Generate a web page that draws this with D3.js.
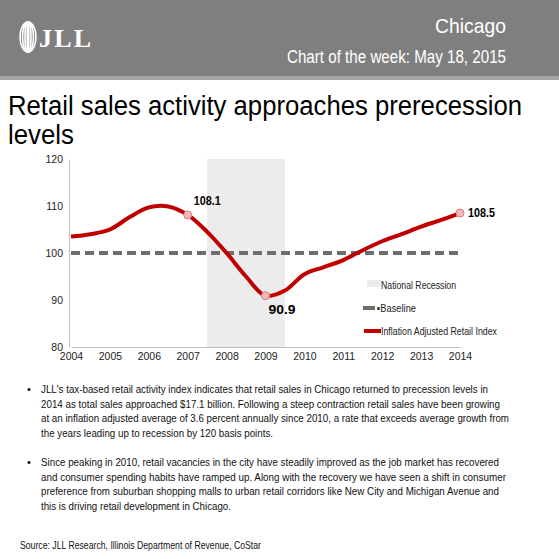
<!DOCTYPE html>
<html><head><meta charset="utf-8">
<script src="https://cdn.jsdelivr.net/npm/d3@7"></script>
<style>body{margin:0;background:#fff}text{font-family:"Liberation Sans Narrow","Arial Narrow","Liberation Sans",Arial,sans-serif}</style>
</head><body><svg id="c" width="559" height="559"></svg>
<script>
const years=[2004,2004.5,2005,2005.5,2006,2006.5,2007,2007.5,2008,2008.5,2009,2009.5,2010,2010.5,2011,2011.5,2012,2012.5,2013,2013.5,2014];
const index=[103.5,104,105,107.6,109.7,109.9,108.1,104.5,100,95,90.9,92,95.5,97,98.5,100.6,102.5,104,105.6,107,108.5];
const baseline=100;
const recession=[2007.5,2009.5];
const labeled=[[2007,108.1],[2009,90.9],[2014,108.5]];
const xTicks=d3.range(2004,2015);
const yTicks=[80,90,100,110,120];
const para1=["JLL's tax-based retail activity index indicates that retail sales in Chicago returned to precession levels in","2014 as total sales approached $17.1 billion.  Following a steep contraction retail sales have been growing","at an inflation adjusted average of 3.6 percent annually since 2010, a rate that exceeds average growth from","the years leading up to recession by 120 basis points."];
const para2=["Since peaking in 2010, retail vacancies in the city have steadily improved as the job market has recovered","and consumer spending habits have ramped up. Along with the recovery we have seen a  shift in consumer","preference from suburban shopping malls to urban retail corridors like New City and Michigan Avenue and","this is driving retail development in Chicago."];
const w1=[447,459,468,232], w2=[458,465,458,190];

const svg=d3.select("#c");
svg.append("rect").attr("width",559).attr("height",76).attr("fill","#7f7f7f");
svg.append("rect").attr("y",76).attr("width",559).attr("height",4).attr("fill","#a6a6a6");
const lg=svg.append("g").attr("fill","none").attr("stroke","#fff").attr("stroke-width",1.6);
[[8,15],[5.5,15],[3,15]].forEach(([rx,ry])=>{lg.append("ellipse").attr("cx",28).attr("cy",37).attr("rx",rx).attr("ry",ry);});
lg.append("ellipse").attr("cx",28).attr("cy",37).attr("rx",0.8).attr("ry",14);
svg.append("text").attr("x",39).attr("y",47).attr("fill","#fff").attr("font-size",26).attr("font-weight","bold").style("font-family","'Liberation Serif',serif").attr("textLength",52).text("JLL");
svg.append("text").attr("x",435).attr("y",33).attr("fill","#fff").attr("font-size",21).attr("textLength",71).attr("lengthAdjust","spacingAndGlyphs").text("Chicago");
svg.append("text").attr("x",287).attr("y",63).attr("fill","#fff").attr("font-size",18).attr("textLength",219).attr("lengthAdjust","spacingAndGlyphs").text("Chart of the week: May 18, 2015");
svg.append("text").attr("x",8).attr("y",115).attr("font-size",27).attr("fill","#000").attr("textLength",514).attr("lengthAdjust","spacingAndGlyphs").text("Retail sales activity approaches prerecession");
svg.append("text").attr("x",8).attr("y",144).attr("font-size",27).attr("fill","#000").attr("textLength",66).attr("lengthAdjust","spacingAndGlyphs").text("levels");

const x=d3.scaleLinear().domain([2004,2014]).range([71,460]);
const y=d3.scaleLinear().domain([80,120]).range([347,159]);
svg.append("rect").attr("x",x(recession[0])).attr("width",x(recession[1])-x(recession[0])).attr("y",y(120)).attr("height",y(80)-y(120)).attr("fill","#ececec");
const ya=svg.append("g").attr("transform","translate(69,0)").call(d3.axisLeft(y).tickValues(yTicks).tickSize(0).tickPadding(6));
ya.select(".domain").attr("stroke","#bfbfbf");
ya.selectAll("text").attr("font-size",10.5).attr("fill","#222");
const xa=svg.append("g").attr("transform","translate(0,347)").call(d3.axisBottom(x).tickValues(xTicks).tickFormat(d3.format("d")).tickSize(0).tickPadding(6));
xa.select(".domain").attr("stroke","#bfbfbf");
xa.selectAll("text").attr("font-size",10.5).attr("fill","#222");
svg.append("line").attr("x1",x(2004)).attr("x2",x(2014)).attr("y1",y(baseline)).attr("y2",y(baseline)).attr("stroke","#6e6e6e").attr("stroke-width",4).attr("stroke-dasharray","9,5");
const line=d3.line().x((d,i)=>x(years[i])).y(d=>y(d)).curve(d3.curveCatmullRom);
svg.append("path").datum(index).attr("d",line).attr("fill","none").attr("stroke","#c00000").attr("stroke-width",4);
labeled.forEach(([yr,v])=>svg.append("circle").attr("cx",x(yr)).attr("cy",y(v)).attr("r",4).attr("fill","#f4b6b6").attr("stroke","#d08080"));
const lab=[[2007,108.1,6,-10],[2009,90.9,3,18],[2014,108.5,8,4]];
lab.forEach(([yr,v,dx,dy])=>svg.append("text").attr("x",x(yr)+dx).attr("y",y(v)+dy).attr("font-size",12).attr("font-weight","bold").attr("textLength",27).attr("lengthAdjust","spacingAndGlyphs").text(v.toFixed(1)));
svg.append("rect").attr("x",367).attr("y",280).attr("width",14).attr("height",7).attr("fill","#ececec");
svg.append("text").attr("x",381).attr("y",289).attr("font-size",11).attr("fill","#222").attr("textLength",75).attr("lengthAdjust","spacingAndGlyphs").text("National Recession");
svg.append("line").attr("x1",363).attr("x2",375).attr("y1",308).attr("y2",308).attr("stroke","#6e6e6e").attr("stroke-width",4);
svg.append("text").attr("x",377).attr("y",312).attr("font-size",11).attr("fill","#222").attr("textLength",39).attr("lengthAdjust","spacingAndGlyphs").text("▪Baseline");
svg.append("line").attr("x1",364).attr("x2",381).attr("y1",331).attr("y2",331).attr("stroke","#c00000").attr("stroke-width",4);
svg.append("text").attr("x",381).attr("y",335).attr("font-size",11).attr("fill","#222").attr("textLength",116).attr("lengthAdjust","spacingAndGlyphs").text("Inflation Adjusted Retail Index");
function para(lines,ws,y0){svg.append("text").attr("x",27).attr("y",y0).attr("font-size",11).text("•");
 lines.forEach((t,i)=>svg.append("text").attr("x",41).attr("y",y0+i*14.5).attr("font-size",10.5).attr("fill","#111").attr("textLength",ws[i]).attr("lengthAdjust","spacingAndGlyphs").text(t));}
para(para1,w1,393);para(para2,w2,466);
svg.append("text").attr("x",20).attr("y",549).attr("font-size",10.5).attr("fill","#111").attr("textLength",241).attr("lengthAdjust","spacingAndGlyphs").text("Source: JLL Research, Illinois Department of Revenue, CoStar");
</script></body></html>
